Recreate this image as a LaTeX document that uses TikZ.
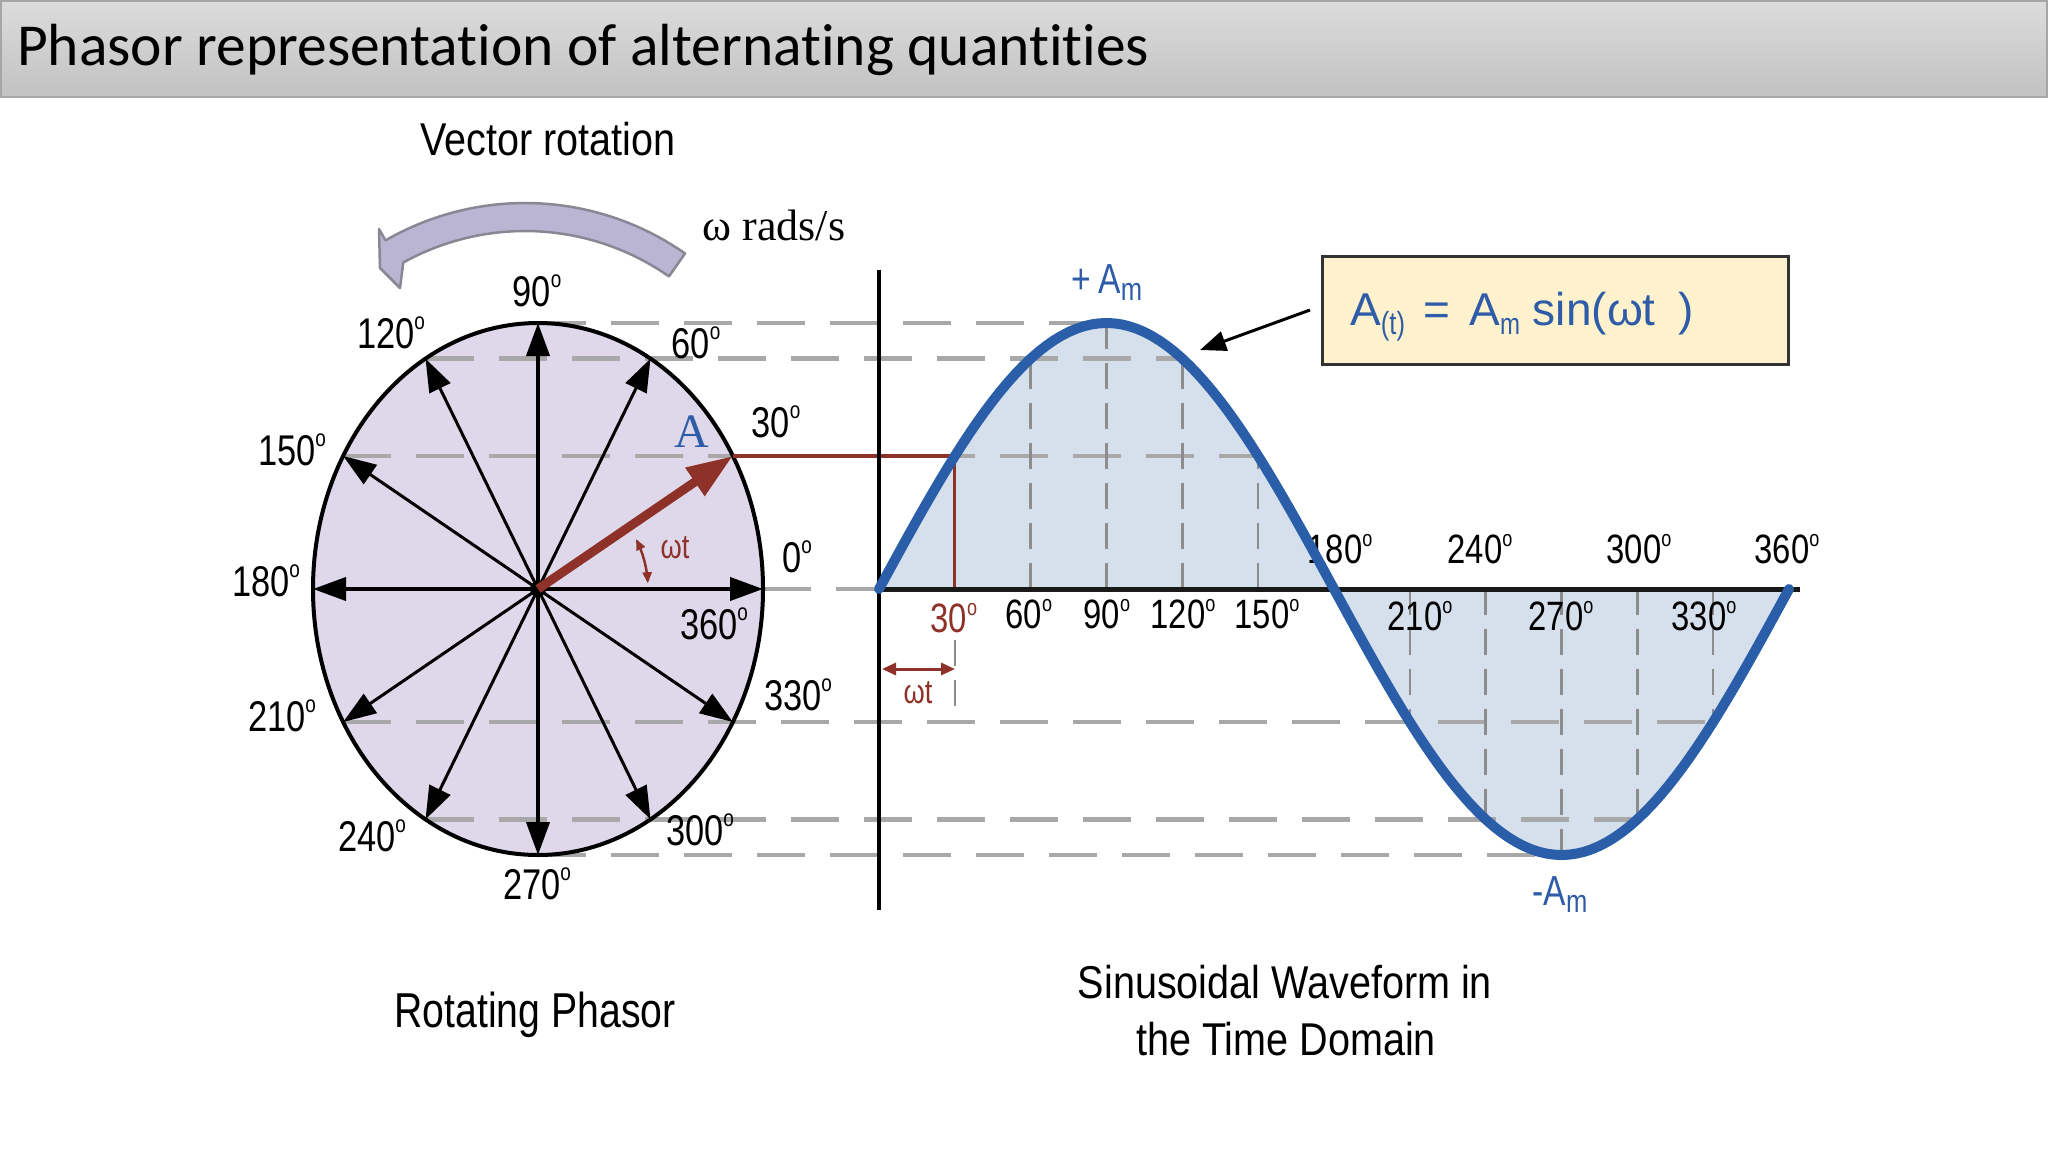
\documentclass[tikz,border=0pt]{standalone}
\usepackage{fontspec}
\usetikzlibrary{arrows.meta}
\setmainfont{Liberation Sans}
\newfontfamily\titlefont[Ligatures={NoCommon,NoDiscretionary,NoContextual}]{Carlito}
\newfontfamily\nsans[FakeStretch=0.8]{Liberation Sans}
\newfontfamily\wsans[FakeStretch=0.86]{Liberation Sans}
\newfontfamily\serifT{Liberation Serif}
\definecolor{barTop}{HTML}{DCDCDC}
\definecolor{barBot}{HTML}{C2C2C2}
\definecolor{phfill}{HTML}{DED8EA}
\definecolor{wavefill}{HTML}{D6DFEC}
\definecolor{waveblue}{HTML}{2B5EA8}
\definecolor{phred}{HTML}{8E3229}
\definecolor{dashgray}{HTML}{A8A8A8}
\definecolor{vgray}{HTML}{8C8C8C}
\definecolor{boxfill}{HTML}{FFF2CC}
\definecolor{bandfill}{HTML}{B9B5D2}
\definecolor{bandedge}{HTML}{8A8794}
\definecolor{lblblue}{HTML}{2E5CA8}
\makeatletter
\newcommand\dg{\raisebox{0.43em}{\fontsize{\fpeval{0.55*\f@size}}{1}\selectfont o}}
\makeatother
\begin{document}
\begin{tikzpicture}[x=1pt,y=-1pt,
  deg/.style={font=\nsans\fontsize{43}{43}\selectfont, inner sep=0pt},
  wdeg/.style={font=\nsans\fontsize{41}{41}\selectfont, inner sep=0pt},
  captxt/.style={inner sep=0pt, anchor=base},
  hdash/.style={draw=dashgray, line width=4.5pt, dash pattern=on 48pt off 25pt},
  vdash/.style={draw=vgray, line width=2.5pt, dash pattern=on 26pt off 14pt},
  radial/.style={line width=3pt, -{Triangle[length=33pt,width=23pt]}},
  axisarrow/.style={line width=4pt, -{Triangle[length=33pt,width=23pt]}}
]
\useasboundingbox (0,0) rectangle (2048,1152);
\fill[white] (0,0) rectangle (2048,1152);
% title bar
\shade[top color=barTop, bottom color=barBot] (0,0) rectangle (2048,97);
\draw[gray!70, line width=2pt] (1,1) rectangle (2047,97);
\node[anchor=base west, inner sep=0pt, font=\titlefont\fontsize{59.5}{59.5}\selectfont] (title) at (17,65) {Phasor representation of alternating quantities};

% rotation arrow
\filldraw[fill=bandfill, draw=bandedge, line width=2.5pt, line join=round]
  plot[domain=55:120, samples=40] ({525+279*cos(\x)},{482-279*sin(\x)})
  -- (379,229) -- (380,268) -- (400,288)
  -- plot[domain=119:55, samples=40] ({525+251*cos(\x)},{482-251*sin(\x)}) -- cycle;
\node[captxt, font=\wsans\fontsize{46}{46}\selectfont] (vrot) at (548,155) {Vector rotation};
\node[captxt, font=\serifT\fontsize{44}{44}\selectfont] (omega) at (774,240) {ω rads/s};

% coordinates
\coordinate (O) at (538,589);
\foreach \a in {0,30,...,360} {
  \coordinate (e\a) at ({538+225*cos(\a)},{589-266*sin(\a)});
  \coordinate (w\a) at ({879+\a*2.527778},{589-266*sin(\a)});
  \coordinate (b\a) at ({879+\a*2.527778},589);
}

% fills
\fill[phfill] (O) ellipse [x radius=225, y radius=266];
\fill[wavefill] plot[domain=0:360, samples=121] ({879+\x*2.527778},{589-266*sin(\x)}) -- cycle;

% horizontal dashed projection lines
\draw[hdash] (e90) -- (w90);
\draw[hdash] (e120) -- (w120);
\draw[hdash] (e150) -- (w150);
\draw[hdash] (e210) -- (w330);
\draw[hdash] (e240) -- (w300);
\draw[hdash] (e270) -- (w270);
\draw[hdash] (e0) -- (b0);
% vertical dashed lines
\foreach \a in {60,90,120,150,210,240,270,300,330} {\draw[vdash] (b\a) -- (w\a);}
\coordinate (d1) at (955,640);
\coordinate (d2) at (955,712);
\draw[vdash] (d1) -- (d2);

% ellipse outline
\draw[line width=4pt] (O) ellipse [x radius=225, y radius=266];

% radial arrows
\foreach \a in {60,120,150,210,240,300,330} {\draw[radial] (O) -- (e\a);}
\foreach \a in {0,90,180,270} {\draw[axisarrow] (O) -- (e\a);}
\fill (O) circle (8);
\draw[phred, line width=9pt, -{Triangle[length=46pt,width=32pt]}] (O) -- (e30);
\draw[phred, line width=2.5pt, {Triangle[length=11pt,width=9pt]}-{Triangle[length=11pt,width=9pt]}]
  plot[domain=27:3, samples=20] ({538+110*cos(\x)},{589-110*sin(\x)});

% red projection
\draw[phred, line width=4pt] (e30) -- (w30);
\draw[phred, line width=3pt] (w30) -- (b30);

% axes
\coordinate (vtop) at (879,270);
\coordinate (vbot) at (879,910);
\coordinate (axend) at (1800,589);
\draw[black!90, line width=5pt] (b0) -- (axend);
\draw[line width=4.5pt] (vtop) -- (vbot);
% wt dimension
\coordinate (dimL) at (882,669);
\coordinate (dimR) at (955,669);
\draw[phred, line width=3pt, {Triangle[length=14pt,width=12pt]}-{Triangle[length=14pt,width=12pt]}] (dimL) -- (dimR);
\node[inner sep=0pt, text=phred, font=\nsans\fontsize{34}{34}\selectfont] (wtdim) at (918,693) {ωt};

% circle labels
\node[deg] (l90) at (537,291) {90\dg};
\node[deg] (l120) at (391,333) {120\dg};
\node[deg] (l150) at (292,450) {150\dg};
\node[deg] (l180) at (266,581) {180\dg};
\node[deg] (l60) at (696,343) {60\dg};
\node[deg] (l30) at (776,422) {30\dg};
\node[deg] (l0) at (797,557) {0\dg};
\node[deg] (l360) at (714,624) {360\dg};
\node[deg] (l330) at (798,695) {330\dg};
\node[deg] (l300) at (700,830) {300\dg};
\node[deg] (l270) at (537,884) {270\dg};
\node[deg] (l240) at (372,836) {240\dg};
\node[deg] (l210) at (282,716) {210\dg};
\node[inner sep=0pt, text=lblblue, font=\serifT\fontsize{48}{48}\selectfont] (lA) at (692,432) {A};
\node[inner sep=0pt, text=phred, font=\nsans\fontsize{34}{34}\selectfont] (lwt) at (675,548) {ωt};

% wave labels
\node[wdeg, text=phred] (m30) at (954,618) {30\dg};
\node[wdeg] (m60) at (1029,614) {60\dg};
\node[wdeg] (m90) at (1107,614) {90\dg};
\node[wdeg] (m120) at (1183,614) {120\dg};
\node[wdeg] (m150) at (1267,614) {150\dg};
\node[wdeg] (m180) at (1340,549) {180\dg};
\node[wdeg] (m240) at (1480,549) {240\dg};
\node[wdeg] (m300) at (1639,549) {300\dg};
\node[wdeg] (m360) at (1787,549) {360\dg};
\node[wdeg] (m210) at (1420,616) {210\dg};
\node[wdeg] (m270) at (1561,616) {270\dg};
\node[wdeg] (m330) at (1704,616) {330\dg};
\node[inner sep=0pt, text=lblblue, font=\nsans\fontsize{42}{42}\selectfont] (pAm) at (1107,283) {+\,A\raisebox{-7pt}{\fontsize{32}{32}\selectfont m}};
\node[inner sep=0pt, text=lblblue, font=\nsans\fontsize{42}{42}\selectfont] (nAm) at (1560,895) {-A\raisebox{-7pt}{\fontsize{32}{32}\selectfont m}};

% wave line
\draw[waveblue, line width=10pt, line cap=round, line join=round] plot[domain=0:360, samples=121] ({879+\x*2.527778},{589-266*sin(\x)});

% formula box
\node[draw=black!80, line width=3pt, fill=boxfill, minimum width=466pt, minimum height=108pt, inner sep=0pt] (fbox) at (1555,310) {};
\node[anchor=base west, inner sep=0pt, text=lblblue, font=\fontsize{46}{46}\selectfont] (formula) at (1350,325)
  {A\raisebox{-9pt}{\nsans\fontsize{32}{32}\selectfont (t)}\hspace{6pt} = \hspace{6pt}A\raisebox{-9pt}{\nsans\fontsize{30}{30}\selectfont m} sin(ωt\hspace{10pt} )};
\coordinate (atail) at (1310,310);
\coordinate (ahead) at (1200,350);
\draw[line width=3pt, -{Triangle[length=26pt,width=20pt]}] (atail) -- (ahead);

% captions
\node[captxt, font=\nsans\fontsize{49}{49}\selectfont] (cap1) at (535,1027) {Rotating Phasor};
\node[captxt, font=\wsans\fontsize{46}{46}\selectfont] (cap2) at (1285,998) {Sinusoidal Waveform in};
\node[captxt, font=\wsans\fontsize{46}{46}\selectfont] (cap3) at (1286,1055) {the Time Domain};
\end{tikzpicture}
\end{document}
